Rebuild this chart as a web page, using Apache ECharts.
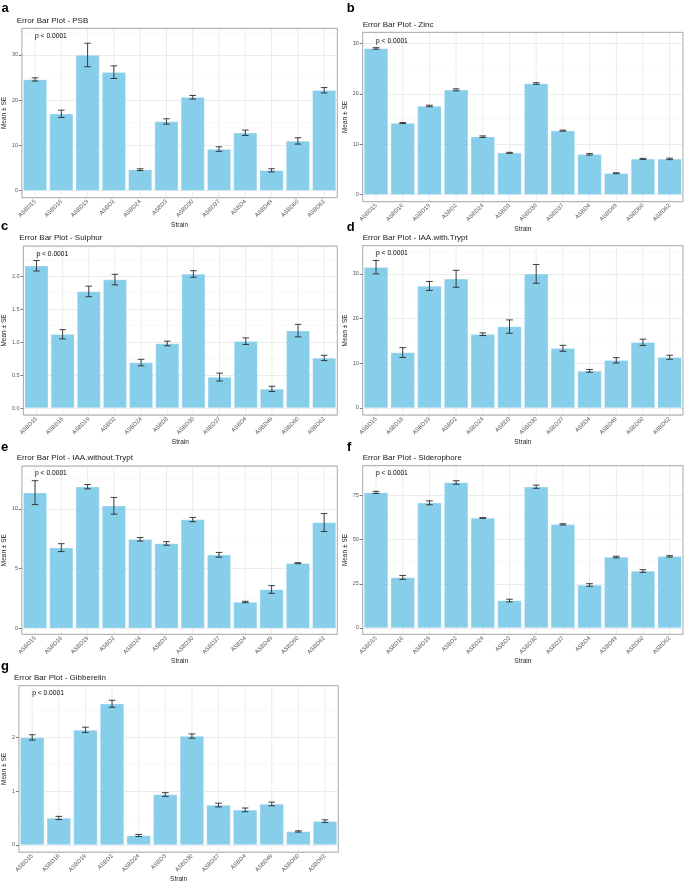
<!DOCTYPE html>
<html>
<head>
<meta charset="utf-8">
<title>Error Bar Plots</title>
<script src="https://cdn.jsdelivr.net/npm/echarts@6/dist/echarts.min.js"></script>
<style>
html, body { margin: 0; padding: 0; background: #fff; }
#chart { width: 685px; height: 884px; }
</style>
</head>
<body>
<div id="chart"></div>
<script>
const FONT = '"Liberation Sans", Arial, sans-serif'

const strains = ['ASBD15', 'ASBD16', 'ASBD19', 'ASBD2', 'ASBD24', 'ASBD3', 'ASBD30', 'ASBD37', 'ASBD4', 'ASBD49', 'ASBD60', 'ASBD62']

// mean and SE per strain
const psbMean = [24.6, 17.0, 30.0, 26.2, 4.65, 15.3, 20.65, 9.2, 12.8, 4.5, 11.0, 22.2]
const psbSE = [0.35, 0.8, 2.6, 1.4, 0.2, 0.6, 0.4, 0.5, 0.6, 0.35, 0.7, 0.6]
const zincMean = [29.0, 14.2, 17.6, 20.8, 11.5, 8.3, 22.05, 12.7, 8.0, 4.25, 7.1, 7.1]
const zincSE = [0.15, 0.1, 0.15, 0.2, 0.15, 0.1, 0.15, 0.1, 0.15, 0.1, 0.1, 0.15]
const sulphurMean = [2.16, 1.12, 1.77, 1.95, 0.69, 0.98, 2.035, 0.47, 1.015, 0.29, 1.175, 0.76]
const sulphurSE = [0.08, 0.07, 0.08, 0.08, 0.05, 0.035, 0.05, 0.06, 0.05, 0.04, 0.095, 0.04]
const iaaWithMean = [31.5, 12.4, 27.3, 28.9, 16.5, 18.2, 30.0, 13.35, 8.3, 10.65, 14.7, 11.35]
const iaaWithSE = [1.5, 1.1, 1.0, 1.9, 0.3, 1.5, 2.1, 0.67, 0.3, 0.6, 0.7, 0.45]
const iaaWithoutMean = [11.35, 6.75, 11.85, 10.25, 7.45, 7.1, 9.1, 6.15, 2.2, 3.25, 5.45, 8.85]
const iaaWithoutSE = [1.0, 0.33, 0.18, 0.7, 0.15, 0.15, 0.18, 0.2, 0.06, 0.32, 0.04, 0.75]
const sideroMean = [76.7, 28.6, 70.8, 82.3, 62.2, 15.5, 79.9, 58.6, 24.3, 40.1, 32.2, 40.5]
const sideroSE = [0.6, 1.1, 1.1, 1.0, 0.2, 0.75, 0.9, 0.35, 0.75, 0.45, 0.75, 0.4]
const gibbMean = [1.995, 0.5, 2.135, 2.62, 0.175, 0.935, 2.02, 0.74, 0.65, 0.76, 0.25, 0.44]
const gibbSE = [0.05, 0.03, 0.05, 0.065, 0.02, 0.035, 0.04, 0.035, 0.035, 0.035, 0.012, 0.025]

const panelLetters = ['a', 'b', 'c', 'd', 'e', 'f', 'g']
const panelTitles = [
  'Error Bar Plot - PSB',
  'Error Bar Plot - Zinc',
  'Error Bar Plot - Sulphur',
  'Error Bar Plot - IAA.with.Trypt',
  'Error Bar Plot - IAA.without.Trypt',
  'Error Bar Plot - Siderophore',
  'Error Bar Plot - Gibberelin'
]
const panelMeans = [psbMean, zincMean, sulphurMean, iaaWithMean, iaaWithoutMean, sideroMean, gibbMean]
const panelSEs = [psbSE, zincSE, sulphurSE, iaaWithSE, iaaWithoutSE, sideroSE, gibbSE]
const pText = 'p < 0.0001'
const pLabelY = [34.2, 30.5, 2.34, 34.55, 12.96, 87.4, 2.81]
const yStep = [10, 10, 0.5, 10, 5, 25, 1]
const yDecimals = [0, 0, 1, 0, 0, 0, 0]

// panel geometry (px) and axis ranges
const layout = [
  { box: [16, 28.3, 321.3, 169.4], y: [-1.55, 35.9], letter: [1.5, 1.5], title: [16.7, 17], yGap: 9.5, xGap: 22 },
  { box: [362.7, 32.3, 320.3, 169.4], y: [-1.39, 32.2], letter: [346.7, 2], title: [362.7, 20.5], yGap: 10, xGap: 22.5 },
  { box: [21.7, 246, 315.6, 169], y: [-0.106, 2.46], letter: [1, 220], title: [19.3, 233.5], yGap: 15, xGap: 21.5 },
  { box: [362.7, 245.7, 320.3, 169.3], y: [-1.57, 36.3], letter: [346.7, 221], title: [362.7, 234], yGap: 10, xGap: 22 },
  { box: [16.7, 466, 320.6, 168.3], y: [-0.5, 13.58], letter: [1, 441], title: [16.7, 454], yGap: 10, xGap: 22.5 },
  { box: [362.7, 465.7, 320.3, 168.6], y: [-3.6, 91.8], letter: [347, 441], title: [362.7, 453.5], yGap: 10, xGap: 22 },
  { box: [13.3, 685.7, 325, 169.3], y: [-0.134, 2.955], letter: [1, 659.5], title: [14, 673.5], yGap: 7, xGap: 21.5 }
]

function renderVGrid(params, api) {
  const x = api.coord([api.value(0), 0])[0]
  const cs = params.coordSys
  return {
    type: 'line',
    shape: { x1: x, y1: cs.y, x2: x, y2: cs.y + cs.height },
    style: { stroke: '#ebebeb', lineWidth: 1 }
  }
}

function renderMinorGrid(params, api) {
  const y = api.coord([0, api.value(1)])[1]
  const cs = params.coordSys
  return {
    type: 'line',
    shape: { x1: cs.x, y1: y, x2: cs.x + cs.width, y2: y },
    style: { stroke: '#f4f4f4', lineWidth: 0.6 }
  }
}

function renderErrorBar(params, api) {
  const lo = api.coord([api.value(0), api.value(1)])
  const hi = api.coord([api.value(0), api.value(2)])
  const half = api.size([1, 0])[0] * 0.125
  const style = { stroke: '#2a2a2a', lineWidth: 0.9 }
  return {
    type: 'group',
    children: [
      { type: 'line', shape: { x1: lo[0], y1: lo[1], x2: hi[0], y2: hi[1] }, style: style },
      { type: 'line', shape: { x1: lo[0] - half, y1: lo[1], x2: lo[0] + half, y2: lo[1] }, style: style },
      { type: 'line', shape: { x1: hi[0] - half, y1: hi[1], x2: hi[0] + half, y2: hi[1] }, style: style }
    ]
  }
}

function renderPLabel(params, api) {
  const pt = api.coord([api.value(0), api.value(1)])
  return {
    type: 'text',
    x: pt[0],
    y: pt[1],
    style: { text: pText, fontSize: 6.7, fontFamily: FONT, fill: '#000', align: 'left', verticalAlign: 'middle' }
  }
}

const option = {
  animation: false,
  backgroundColor: '#fff',
  textStyle: { fontFamily: FONT },
  title: [],
  grid: [],
  xAxis: [],
  yAxis: [],
  series: []
}

panelTitles.forEach((title, k) => {
  const L = layout[k]
  const step = yStep[k]
  const minor = []
  for (let v = step / 2; v < L.y[1]; v += step) minor.push([0, v])

  option.title.push({
    text: panelLetters[k], left: L.letter[0], top: L.letter[1], padding: 0,
    textStyle: { fontSize: 13, fontWeight: 'bold', color: '#000', fontFamily: FONT }
  })
  option.title.push({
    text: title, left: L.title[0], top: L.title[1], padding: 0,
    textStyle: { fontSize: 8, fontWeight: 'normal', color: '#1a1a1a', fontFamily: FONT }
  })
  option.grid.push({
    left: L.box[0], top: L.box[1], width: L.box[2], height: L.box[3],
    show: true, z: 5, backgroundColor: 'transparent', borderColor: '#a8a8a8', borderWidth: 1
  })
  option.xAxis.push({
    type: 'category',
    gridIndex: k,
    data: strains,
    name: 'Strain',
    nameLocation: 'middle',
    nameGap: L.xGap,
    nameTextStyle: { fontSize: 6.5, color: '#222' },
    axisLine: { show: false },
    axisTick: { alignWithLabel: true, length: 3, lineStyle: { color: '#555', width: 0.8 } },
    axisLabel: { interval: 0, rotate: 45, fontSize: 5.8, color: '#555', margin: 3 },
    splitLine: { show: false }
  })
  option.yAxis.push({
    type: 'value',
    gridIndex: k,
    min: L.y[0],
    max: L.y[1],
    minInterval: step,
    maxInterval: step,
    name: 'Mean ± SE',
    nameLocation: 'middle',
    nameGap: L.yGap,
    nameTextStyle: { fontSize: 6.5, color: '#222' },
    axisLine: { show: false },
    axisTick: { show: true, length: 3, lineStyle: { color: '#555', width: 0.8 } },
    axisLabel: {
      fontSize: 5.4, color: '#555', margin: 4, showMinLabel: false, showMaxLabel: false,
      formatter: v => v.toFixed(yDecimals[k])
    },
    splitLine: { lineStyle: { color: '#ebebeb', width: 1 } }
  })

  option.series.push({
    type: 'custom', xAxisIndex: k, yAxisIndex: k, z: 1, silent: true,
    renderItem: renderVGrid, data: strains.map((s, i) => [i, 0])
  })
  option.series.push({
    type: 'custom', xAxisIndex: k, yAxisIndex: k, z: 1, silent: true,
    renderItem: renderMinorGrid, data: minor
  })
  option.series.push({
    type: 'bar', xAxisIndex: k, yAxisIndex: k, z: 2,
    barCategoryGap: '10%',
    itemStyle: { color: '#87CEEB', borderColor: 'rgba(255,255,255,0.55)', borderWidth: 0.5 },
    data: panelMeans[k]
  })
  option.series.push({
    type: 'custom', xAxisIndex: k, yAxisIndex: k, z: 3, silent: true,
    renderItem: renderErrorBar,
    encode: { x: 0, y: [1, 2] },
    data: panelMeans[k].map((m, i) => [i, m - panelSEs[k][i], m + panelSEs[k][i]])
  })
  option.series.push({
    type: 'custom', xAxisIndex: k, yAxisIndex: k, z: 4, silent: true,
    renderItem: renderPLabel, data: [[0, pLabelY[k]]]
  })
})

const myChart = echarts.init(document.getElementById('chart'), null, { renderer: 'canvas' })
myChart.setOption(option)
</script>
</body>
</html>
